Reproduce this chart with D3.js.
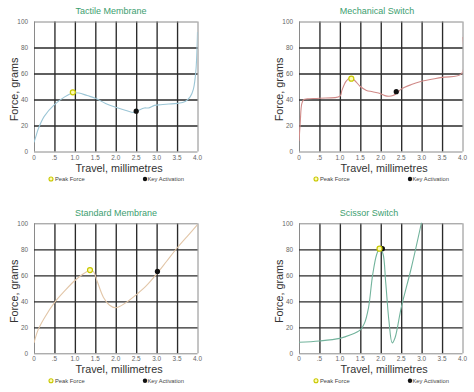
<!DOCTYPE html>
<html lang="en">
<head>
    <meta charset="UTF-8">
    <title>Keyboard switch force curves</title>
    <script src="https://d3js.org/d3.v7.min.js"></script>
    <style>
        body { margin: 0; background: #fff; }
        svg { display: block; font-family: "Liberation Sans", Arial, sans-serif; }
    </style>
</head>
<body>

<script>

    // travel (mm) and force (g)
    var tactileX = [0, 0.05, 0.1, 0.25, 0.5, 0.75, 0.95, 1.1, 1.3, 1.5, 1.75, 2.0, 2.25, 2.45, 2.55, 2.7, 2.8, 2.95, 3.1, 3.3, 3.5, 3.7, 3.82, 3.9, 3.96, 4.0]
    var tactileY = [7, 12, 17, 27, 36, 42, 45, 45, 43, 41, 37, 34, 31.5, 30, 31.5, 33.5, 33.5, 35.5, 36, 36.5, 37, 38.5, 42, 48, 62, 92]

    var mechX = [0, 0.03, 0.07, 0.12, 0.2, 0.5, 1.0, 1.05, 1.15, 1.25, 1.35, 1.5, 1.65, 1.8, 2.0, 2.1, 2.2, 2.3, 2.4, 2.5, 2.75, 3.0, 3.5, 3.98, 4.0]
    var mechY = [8, 22, 37, 40, 40.5, 41, 42.5, 47, 54, 56.5, 55, 50, 47, 46, 44.5, 43, 42.5, 43, 45, 48, 51.5, 54, 57, 60, 88]

    var standardX = [0, 0.1, 0.25, 0.5, 0.75, 1.0, 1.2, 1.35, 1.45, 1.55, 1.7, 1.85, 2.0, 2.25, 2.5, 2.75, 3.0, 3.25, 3.5, 3.75, 4.0]
    var standardY = [8, 18, 27, 39, 48, 56, 61, 63.5, 63, 55, 43, 37, 35, 39, 45, 52, 61, 71, 81, 90, 99]

    var scissorX = [0, 0.5, 1.0, 1.25, 1.5, 1.6, 1.7, 1.8, 1.9, 1.97, 2.05, 2.12, 2.2, 2.28, 2.35, 2.5, 2.75, 3.0]
    var scissorY = [8.5, 9.5, 11.5, 14, 18, 23, 35, 60, 76, 80.5, 77, 55, 25, 8, 12, 35, 66, 101]

    var titles = ["Tactile Membrane", "Mechanical Switch", "Standard Membrane", "Scissor Switch"]
    var lineColors = ["#9cc6d6", "#d08a88", "#e2c6a8", "#72b39c"]
    var peakForce = [[0.95, 45.5], [1.28, 56], [1.37, 64], [1.97, 80.5]]
    var keyActivation = [[2.5, 31], [2.38, 46], [3.02, 63], [2.04, 80.5]]

    var xTicks = [0, 0.5, 1, 1.5, 2, 2.5, 3, 3.5, 4]
    var xTickLabels = ["0", ".5", "1.0", "1.5", "2.0", "2.5", "3.0", "3.5", "4.0"]
    var yTicks = [0, 20, 40, 60, 80, 100]

    var series = [
        [tactileX, tactileY],
        [mechX, mechY],
        [standardX, standardY],
        [scissorX, scissorY]
    ]

    // panel origins in the 474x392 picture
    var panels = [
        {left: 34, top: 21.5},
        {left: 299, top: 21.5},
        {left: 34, top: 223.3},
        {left: 299, top: 223.3}
    ]
    var pw = 163.5, ph = 130

    const svg = d3.select("body").append("svg")
        .attr("width", 474)
        .attr("height", 392)

    panels.forEach((p, i) => {
        const x = d3.scaleLinear().domain([0, 4]).range([p.left, p.left + pw])
        const y = d3.scaleLinear().domain([0, 100]).range([p.top + ph, p.top])
        const g = svg.append("g")

        g.append("clipPath").attr("id", "clip" + i)
            .append("rect")
            .attr("x", p.left).attr("y", p.top - 0.5)
            .attr("width", pw).attr("height", ph + 0.5)

        // grid
        g.append("g")
            .attr("transform", `translate(0,${p.top + ph})`)
            .call(d3.axisBottom(x).tickValues(xTicks).tickSize(-ph).tickFormat(""))
            .call(s => s.select(".domain").remove())
            .selectAll("line")
            .attr("stroke", d => (d === 0 || d === 4) ? "#8a8a8a" : "#2a2a2a")
            .attr("stroke-width", d => (d === 0 || d === 4) ? 1 : 1.35)

        g.append("g")
            .attr("transform", `translate(${p.left},0)`)
            .call(d3.axisLeft(y).tickValues(yTicks).tickSize(-pw).tickFormat(""))
            .call(s => s.select(".domain").remove())
            .selectAll("line")
            .attr("stroke", d => (d === 0 || d === 100) ? "#8a8a8a" : "#2a2a2a")
            .attr("stroke-width", d => (d === 0 || d === 100) ? 1 : 1.35)

        // tick labels
        g.selectAll(".xl").data(xTicks).enter().append("text")
            .attr("x", d => x(d))
            .attr("y", p.top + ph + 8)
            .attr("text-anchor", "middle")
            .attr("font-size", 6.4)
            .attr("fill", "#666")
            .text((d, j) => xTickLabels[j])

        g.selectAll(".yl").data(yTicks).enter().append("text")
            .attr("x", p.left - 6)
            .attr("y", d => y(d) + 2.2)
            .attr("text-anchor", "end")
            .attr("font-size", 6.4)
            .attr("fill", "#666")
            .text(d => d)

        // curve
        const line = d3.line()
            .x((d, j) => x(series[i][0][j]))
            .y(d => y(d))
            .curve(d3.curveCatmullRom.alpha(0.5))

        g.append("path")
            .datum(series[i][1])
            .attr("clip-path", `url(#clip${i})`)
            .attr("fill", "none")
            .attr("stroke", lineColors[i])
            .attr("stroke-width", 1.1)
            .attr("d", line)

        // markers
        g.append("circle")
            .attr("cx", x(keyActivation[i][0]))
            .attr("cy", y(keyActivation[i][1]))
            .attr("r", 2.6)
            .attr("fill", "#111")

        g.append("circle")
            .attr("cx", x(peakForce[i][0]))
            .attr("cy", y(peakForce[i][1]))
            .attr("r", 2.5)
            .attr("fill", "#fffbb0")
            .attr("stroke", "#c8c800")
            .attr("stroke-width", 1.2)

        // titles
        g.append("text")
            .attr("x", [111, 377, 116, 369][i])
            .attr("y", p.top - 7.5)
            .attr("text-anchor", "middle")
            .attr("font-size", 9)
            .attr("fill", "#3d9e6f")
            .text(titles[i])

        g.append("text")
            .attr("x", p.left + 85)
            .attr("y", p.top + ph + 20)
            .attr("text-anchor", "middle")
            .attr("font-size", 10.8)
            .attr("fill", "#333")
            .text("Travel, millimetres")

        g.append("text")
            .attr("transform", `translate(${p.left - 16},${p.top + 68}) rotate(-90)`)
            .attr("text-anchor", "middle")
            .attr("font-size", 10.8)
            .attr("fill", "#333")
            .text("Force, grams")

        // legend
        const ly = p.top + ph + 27.5
        g.append("circle")
            .attr("cx", p.left + 17).attr("cy", ly)
            .attr("r", 2)
            .attr("fill", "#fffbb0")
            .attr("stroke", "#c8c800")
            .attr("stroke-width", 1.1)
        g.append("text")
            .attr("x", p.left + 21).attr("y", ly + 2)
            .attr("font-size", 5.8)
            .attr("fill", "#444")
            .text("Peak Force")

        g.append("circle")
            .attr("cx", p.left + 111).attr("cy", ly)
            .attr("r", 2.2)
            .attr("fill", "#111")
        g.append("text")
            .attr("x", p.left + 113.5).attr("y", ly + 2)
            .attr("font-size", 5.8)
            .attr("fill", "#444")
            .text("Key Activation")
    })

</script>

</body>
</html>
